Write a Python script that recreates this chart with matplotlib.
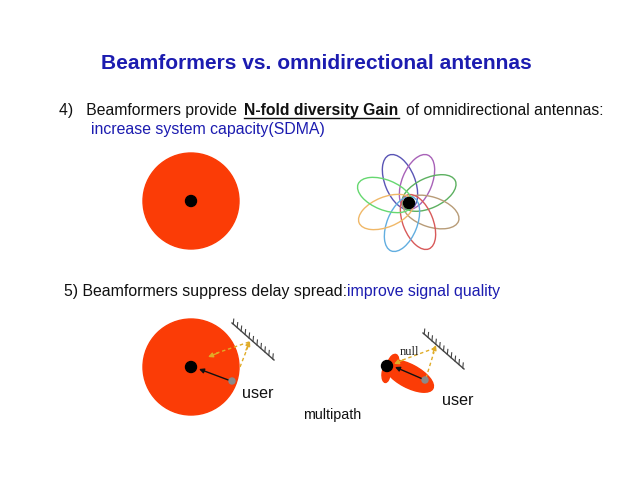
import matplotlib
matplotlib.use('Agg')
import numpy as np
import matplotlib.pyplot as plt
from matplotlib.patches import Circle, Ellipse

plt.rcParams['font.family'] = ['Liberation Sans', 'DejaVu Sans']

ORANGE_RED = '#fb3c06'
BLUE = '#1c1cb0'
DASH = '#e0ac28'

# beam pattern, petals around the antenna: x, y, tilt, colour
petal_x = [400, 417, 429, 431, 418, 402, 386, 385]
petal_y = [182, 182, 193, 212, 222, 224, 212, 195]
petal_tilt = [68, -68, -25, 18, 68, -68, -22, 22]
petal_color = ['#5a55b5', '#a862b8', '#5cb060', '#b89c78',
               '#d85a5a', '#62aee0', '#f0b868', '#66d870']

# reflecting walls, end points
wall_left_x = [232, 274]
wall_left_y = [323, 360]
wall_right_x = [423, 464]
wall_right_y = [333, 369]


def draw_wall(ax, xs, ys, n=11):
    ax.plot(xs, ys, color='#444444', lw=1.0, zorder=2)
    for t in np.linspace(0.03, 0.97, n):
        x = xs[0] + t * (xs[1] - xs[0])
        y = ys[0] + t * (ys[1] - ys[0])
        ax.plot([x, x + 0.5], [y, y - 5], color='#444444', lw=0.8, zorder=2)


def arrow(ax, start, end, color, ls='-', lw=1.0):
    ax.annotate('', xy=end, xytext=start, zorder=5,
                arrowprops=dict(arrowstyle='-|>', color=color, lw=lw, ls=ls,
                                mutation_scale=7, shrinkA=0, shrinkB=0))


def dashed(ax, xs, ys):
    ax.plot(xs, ys, color=DASH, lw=1.0, ls=(0, (2.5, 2)), zorder=4)


fig = plt.figure(figsize=(6.38, 4.78), dpi=100)
ax = fig.add_axes([0, 0, 1, 1])
ax.set_xlim(0, 638)
ax.set_ylim(478, 0)
ax.axis('off')

ax.text(316, 63.5, 'Beamformers vs. omnidirectional antennas', color=BLUE,
        fontsize=15.15, fontweight='bold', ha='center', va='center')

ax.text(59, 115, '4)   Beamformers provide', fontsize=11.3, color='#111111', va='baseline')
ax.text(244, 115, 'N-fold diversity Gain', fontsize=11.3, color='#111111',
        fontweight='bold', va='baseline')
ax.plot([244, 399], [117.5, 117.5], color='#111111', lw=1.0)
ax.text(406, 115, 'of omnidirectional antennas:', fontsize=11.3, color='#111111', va='baseline')
ax.text(91, 134, 'increase system capacity(SDMA)', fontsize=11.4, color=BLUE, va='baseline')

ax.text(64, 296, '5) Beamformers suppress delay spread:', fontsize=11.4,
        color='#111111', va='baseline')
ax.text(347, 296, 'improve signal quality', fontsize=11.4, color=BLUE, va='baseline')

# omni pattern
ax.add_patch(Circle((191, 201), 48, color=ORANGE_RED, zorder=1))
ax.add_patch(Circle((191, 201), 5.5, color='black', zorder=3))

# beamformer pattern
for x, y, tilt, c in zip(petal_x, petal_y, petal_tilt, petal_color):
    ax.add_patch(Ellipse((x, y), 58, 30, angle=tilt, fill=False, ec=c, lw=1.0, zorder=2))
ax.add_patch(Circle((409, 203), 5.5, color='black', zorder=3))

# delay spread, omni
ax.add_patch(Circle((191, 367), 48, color=ORANGE_RED, zorder=1))
ax.add_patch(Circle((191, 367), 5.5, color='black', zorder=3))
draw_wall(ax, wall_left_x, wall_left_y)
dashed(ax, [240, 249], [367, 344])
arrow(ax, (246, 350), (250, 341), DASH)
dashed(ax, [249, 214], [342, 354])
arrow(ax, (218, 353), (208, 357), DASH)
arrow(ax, (231, 381), (199, 369), '#111111')
ax.add_patch(Circle((232, 381), 3, color='#8a8a8a', zorder=6))
ax.text(242, 398, 'user', fontsize=11.6, color='#111111', va='baseline')

# delay spread, beamformer
ax.add_patch(Ellipse((409, 376), 54, 23, angle=28, color=ORANGE_RED, zorder=1))
ax.add_patch(Ellipse((393, 363), 10, 18, angle=20, color=ORANGE_RED, zorder=1))
ax.add_patch(Ellipse((386, 374), 8, 17, angle=5, color=ORANGE_RED, zorder=1))
ax.add_patch(Circle((387, 366), 5.5, color='black', zorder=3))
draw_wall(ax, wall_right_x, wall_right_y)
dashed(ax, [426, 434], [378, 352])
arrow(ax, (433, 353), (436, 345), DASH)
dashed(ax, [435, 400], [348, 361])
arrow(ax, (403, 360), (394, 364), DASH)
arrow(ax, (425, 380), (395, 367), '#111111')
ax.add_patch(Circle((425, 380), 3, color='#8a8a8a', zorder=6))
ax.text(409, 352, 'null', fontsize=9, family='Liberation Serif', color='#222222',
        ha='center', va='center', zorder=7)
ax.text(442, 405, 'user', fontsize=11.6, color='#111111', va='baseline')

ax.text(303, 419, 'multipath', fontsize=10.3, color='#111111', va='baseline')

fig.savefig('out.png', dpi=100)
